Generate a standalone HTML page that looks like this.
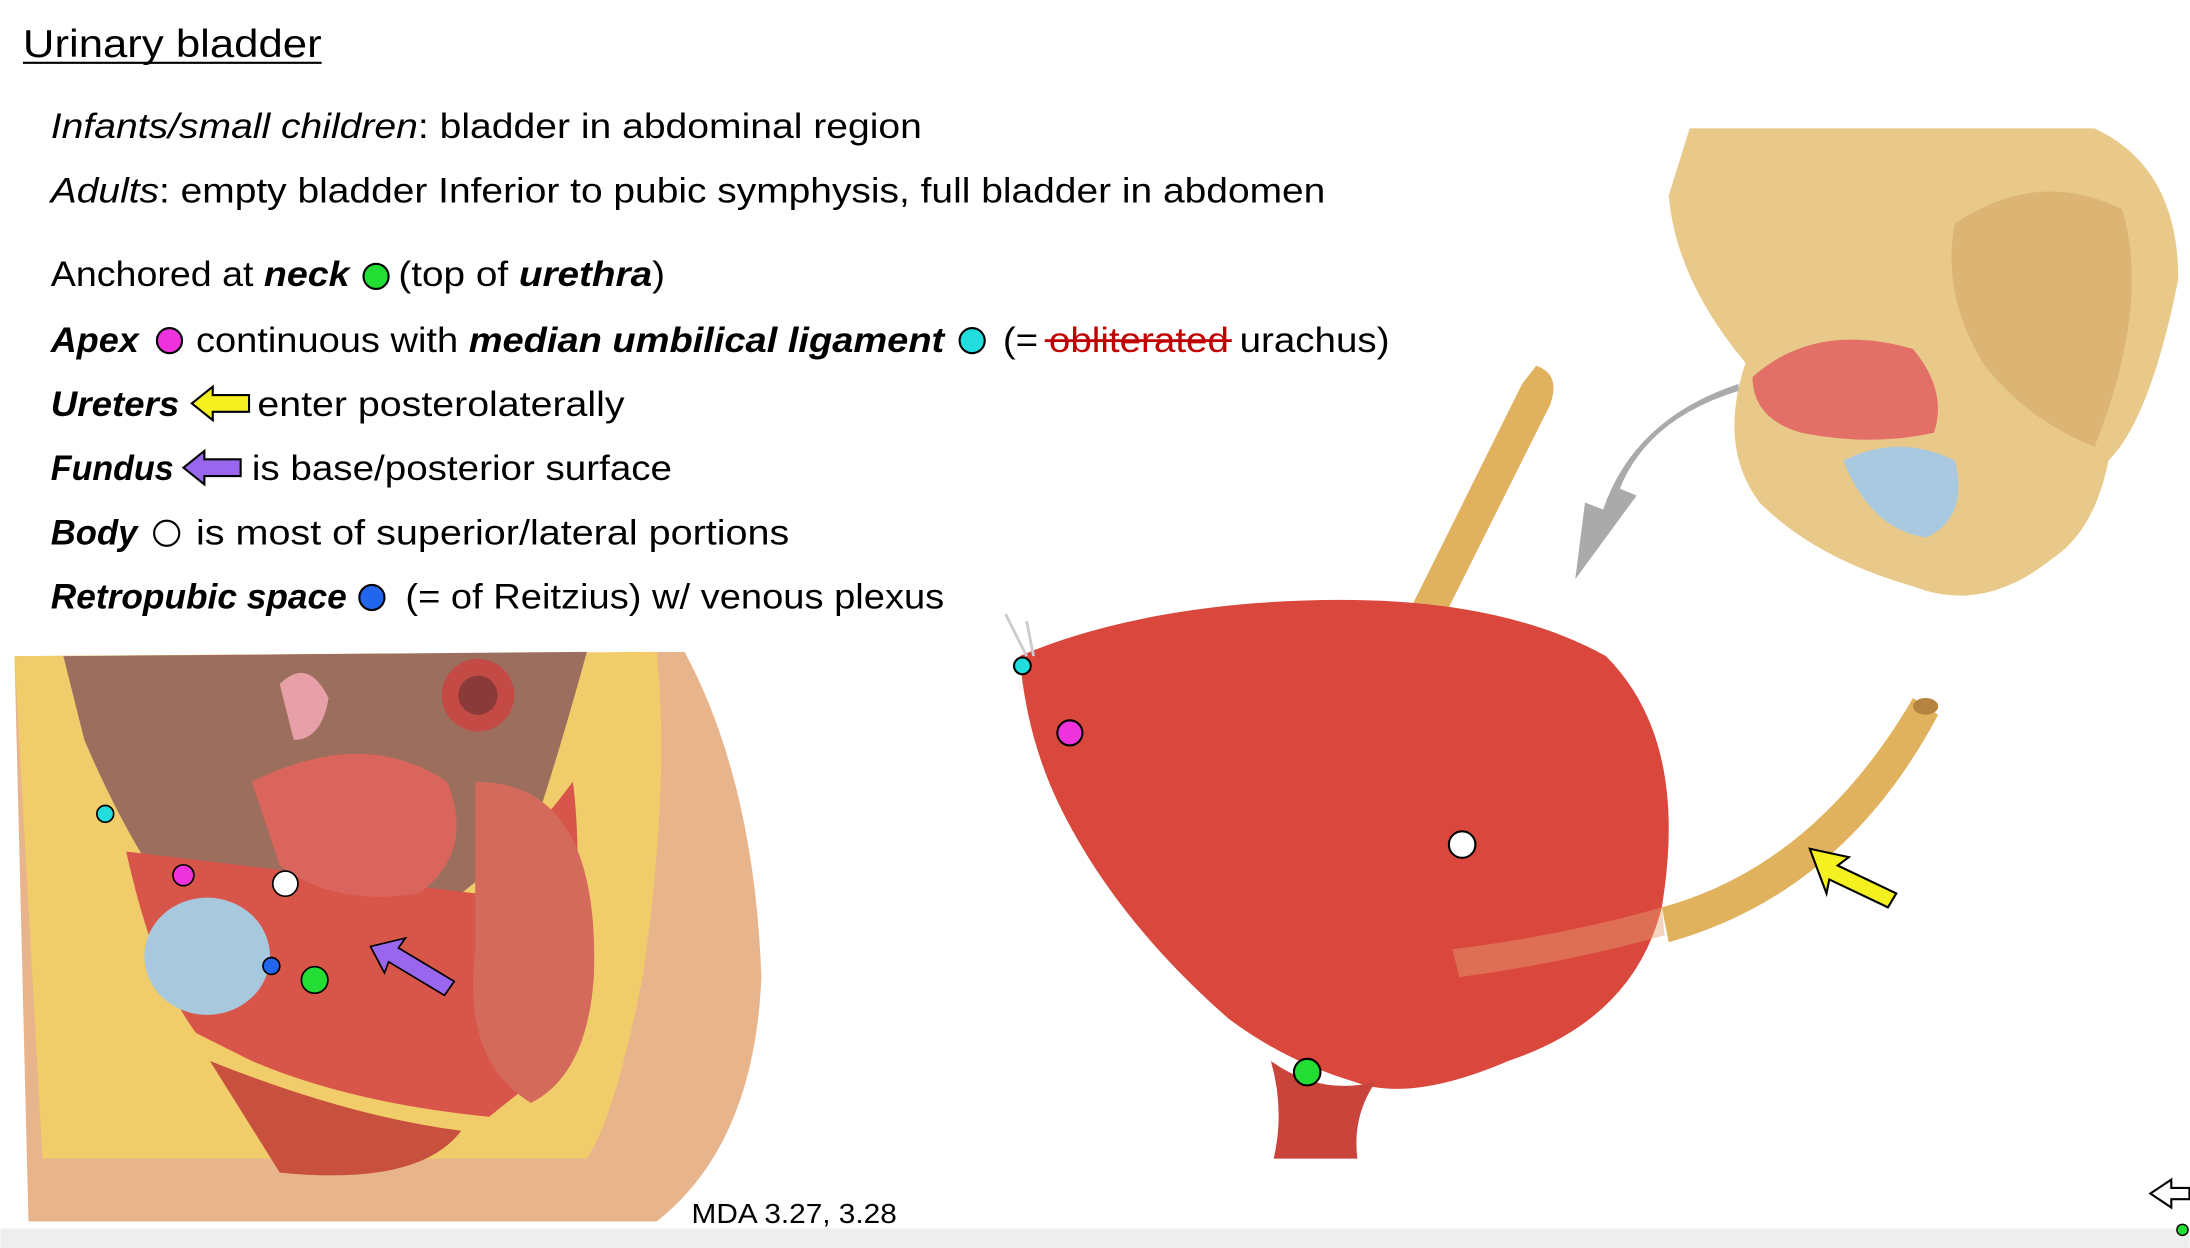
<!DOCTYPE html>
<html><head><meta charset="utf-8"><style>
html,body{margin:0;padding:0;background:#fff;}
svg{display:block;}
text{font-family:"Liberation Sans",sans-serif;}
</style></head><body>
<svg width="2190" height="1248" viewBox="0 0 1568 894" xmlns="http://www.w3.org/2000/svg">
<rect width="1568" height="894" fill="#fff"/>
<rect x="0" y="880" width="1568" height="14" fill="#eeeeee"/>
<!-- Title -->
<text x="16" y="41" font-size="28" fill="#000" textLength="214" lengthAdjust="spacingAndGlyphs">Urinary bladder</text>
<line x1="16" y1="45" x2="230" y2="45" stroke="#000" stroke-width="1.5"/>
<g font-size="25.5" fill="#000">
<text x="36" y="99" textLength="624" lengthAdjust="spacingAndGlyphs"><tspan font-style="italic">Infants/small children</tspan>: bladder in abdominal region</text>
<text x="36" y="145" textLength="913" lengthAdjust="spacingAndGlyphs"><tspan font-style="italic">Adults</tspan>: empty bladder Inferior to pubic symphysis, full bladder in abdomen</text>
<text x="36" y="205" textLength="214" lengthAdjust="spacingAndGlyphs">Anchored at <tspan font-weight="bold" font-style="italic">neck</tspan></text>
<text x="285" y="205" textLength="191" lengthAdjust="spacingAndGlyphs">(top of <tspan font-weight="bold" font-style="italic">urethra</tspan>)</text>
<text x="36" y="252" font-weight="bold" font-style="italic" textLength="63" lengthAdjust="spacingAndGlyphs">Apex</text>
<text x="140" y="252" textLength="536" lengthAdjust="spacingAndGlyphs">continuous with <tspan font-weight="bold" font-style="italic">median umbilical ligament</tspan></text>
<text x="718" y="252" textLength="277" lengthAdjust="spacingAndGlyphs">(= <tspan fill="#c00000">obliterated</tspan> urachus)</text>
<line x1="748" y1="244" x2="882" y2="244" stroke="#c00000" stroke-width="2"/>
<text x="36" y="298" font-weight="bold" font-style="italic" textLength="92" lengthAdjust="spacingAndGlyphs">Ureters</text>
<text x="184" y="298" textLength="263" lengthAdjust="spacingAndGlyphs">enter posterolaterally</text>
<text x="36" y="344" font-weight="bold" font-style="italic" textLength="88" lengthAdjust="spacingAndGlyphs">Fundus</text>
<text x="180" y="344" textLength="301" lengthAdjust="spacingAndGlyphs">is base/posterior surface</text>
<text x="36" y="390" font-weight="bold" font-style="italic" textLength="62" lengthAdjust="spacingAndGlyphs">Body</text>
<text x="140" y="390" textLength="425" lengthAdjust="spacingAndGlyphs">is most of superior/lateral portions</text>
<text x="36" y="436" font-weight="bold" font-style="italic" textLength="212" lengthAdjust="spacingAndGlyphs">Retropubic space</text>
<text x="290" y="436" textLength="386" lengthAdjust="spacingAndGlyphs">(= of Reitzius) w/ venous plexus</text>
</g>
<!-- text icons -->
<g stroke="#000" stroke-width="1.5">
<circle cx="269" cy="198" r="9" fill="#22dd33"/>
<circle cx="121" cy="244" r="9" fill="#ee33dd"/>
<circle cx="696" cy="244" r="9" fill="#22dddd"/>
<path d="M137,289 L152,277 L152,283 L178,283 L178,295 L152,295 L152,301 Z" fill="#f5f020"/>
<path d="M131,335 L146,323 L146,329 L172,329 L172,341 L146,341 L146,347 Z" fill="#9966ee"/>
<circle cx="119" cy="382" r="9" fill="#fff"/>
<circle cx="266" cy="428" r="9" fill="#2266ee"/>
</g>
<!-- Left sagittal image -->
<g>
<path d="M10,470 L490,467 Q540,560 545,700 Q540,820 470,875 L20,875 Z" fill="#e8b48c"/>
<path d="M10,470 L470,467 Q480,560 460,700 Q440,800 420,830 L30,830 Z" fill="#f1cc6a"/>
<path d="M45,470 L420,467 Q400,540 380,600 L330,640 L120,640 Q90,600 60,530 Z" fill="#9c6e5e"/>
<path d="M90,610 Q110,700 140,740 L180,760 Q250,790 350,800 L400,760 Q420,640 410,560 Q380,600 340,640 Z" fill="#d8554a"/>
<ellipse cx="148" cy="685" rx="45" ry="42" fill="#a8c8de"/>
<path d="M180,560 Q260,520 320,560 Q340,610 300,640 Q240,650 200,620 Z" fill="#d9655c"/>
<circle cx="342" cy="498" r="26" fill="#c34a45"/>
<circle cx="342" cy="498" r="14" fill="#8a3a38"/>
<path d="M340,560 Q430,560 425,700 Q420,770 380,790 Q330,760 340,680 Z" fill="#d46a5c"/>
<path d="M200,490 Q220,470 235,500 Q230,530 210,530 Z" fill="#e8a0a8"/>
<path d="M150,760 Q250,800 330,810 Q300,850 200,840 Z" fill="#c8503e"/>
</g>
<g stroke="#000" stroke-width="1.2">
<circle cx="75" cy="583" r="6" fill="#22dddd"/>
<circle cx="131" cy="627" r="7.5" fill="#ee33dd"/>
<circle cx="204" cy="633" r="9" fill="#fff"/>
<circle cx="194" cy="692" r="6" fill="#2266ee"/>
<circle cx="225" cy="702" r="9.5" fill="#22dd33"/>
<path d="M265,678 L290,672 L285,679 L325,703 L318,713 L278,689 L275,697 Z" fill="#9966ee"/>
</g>
<text x="495" y="876" font-size="20" fill="#000" textLength="147" lengthAdjust="spacingAndGlyphs">MDA 3.27, 3.28</text>
<!-- Bladder image -->
<path d="M1100,262 Q1118,268 1110,290 L1030,450 L1008,440 L1090,275 Z" fill="#e0b25e"/>
<path d="M1190,650 Q1300,620 1370,500 L1388,512 Q1320,640 1195,675 Z" fill="#e0b25e"/>
<ellipse cx="1379" cy="506" rx="9" ry="6" fill="#b58440"/>
<path d="M730,470 Q800,440 900,432 Q1060,420 1150,470 Q1210,530 1190,650 Q1170,730 1080,760 Q1010,790 970,775 Q920,760 880,730 Q800,660 760,580 Q735,530 730,470 Z" fill="#d9473d"/>
<path d="M910,760 Q945,785 985,775 Q968,800 972,830 L912,830 Q920,795 910,760 Z" fill="#c9453b"/>
<path d="M1040,680 Q1120,670 1190,650 L1192,670 Q1120,690 1045,700 Z" fill="#e6a070" opacity="0.45"/>
<path d="M735,470 L720,440 M740,470 L735,445" stroke="#cccccc" stroke-width="2"/>
<g stroke="#000" stroke-width="1.5">
<circle cx="732" cy="477" r="6" fill="#22dddd"/>
<circle cx="766" cy="525" r="9" fill="#ee33dd"/>
<circle cx="1047" cy="605" r="9.5" fill="#fff"/>
<circle cx="936" cy="768" r="9.5" fill="#22dd33"/>
<path d="M1296,608 L1324,614 L1316,620 L1358,640 L1352,650 L1310,630 L1308,640 Z" fill="#f5f020"/>
</g>
<!-- Pelvis image -->
<path d="M1210,92 L1500,92 Q1560,120 1560,200 Q1540,300 1510,330 Q1500,380 1470,400 Q1420,440 1370,420 Q1300,400 1260,360 Q1230,320 1250,260 Q1200,200 1195,140 Z" fill="#e9c98a"/>
<path d="M1400,160 Q1460,120 1520,150 Q1540,220 1500,320 Q1450,300 1420,260 Q1390,210 1400,160 Z" fill="#dcb574"/>
<path d="M1255,270 Q1300,230 1370,250 Q1395,280 1385,310 Q1340,320 1290,310 Q1255,300 1255,270 Z" fill="#e06060" opacity="0.85"/>
<path d="M1320,330 Q1360,310 1400,330 Q1410,370 1380,385 Q1340,380 1320,330 Z" fill="#a9c9e0"/>
<path d="M1245,280 Q1180,300 1160,350 L1172,355 L1128,415 L1135,360 L1148,365 Q1170,300 1245,275 Z" fill="#aaaaaa"/>
<!-- bottom right nav -->
<path d="M1540,855 L1555,845 L1555,851 L1568,851 L1568,859 L1555,859 L1555,865 Z" fill="#fff" stroke="#000" stroke-width="1.5"/>
<circle cx="1563" cy="881" r="4" fill="#22dd33" stroke="#000" stroke-width="1"/>
</svg>
</body></html>
